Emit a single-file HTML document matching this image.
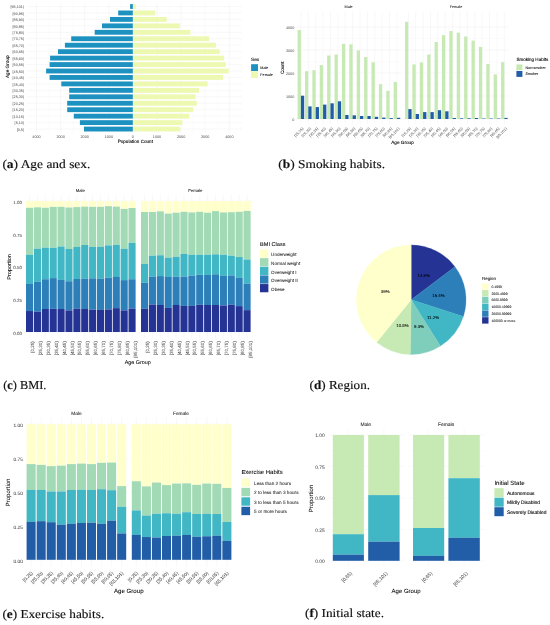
<!DOCTYPE html>
<html lang="en"><head><meta charset="utf-8"><title>Figure</title>
<style>html,body{margin:0;padding:0;background:#fff}svg{display:block}</style></head>
<body>
<svg width="550" height="625" viewBox="0 0 550 625" text-rendering="geometricPrecision">
<rect width="550" height="625" fill="#fff"/>
<g id="panel-a" font-family='"Liberation Sans", Arial, sans-serif'>
<path d="M27 6.5H242" stroke="#ebebeb" stroke-width="0.35" fill="none"/>
<path d="M27 12.95H242" stroke="#ebebeb" stroke-width="0.35" fill="none"/>
<path d="M27 19.4H242" stroke="#ebebeb" stroke-width="0.35" fill="none"/>
<path d="M27 25.85H242" stroke="#ebebeb" stroke-width="0.35" fill="none"/>
<path d="M27 32.3H242" stroke="#ebebeb" stroke-width="0.35" fill="none"/>
<path d="M27 38.75H242" stroke="#ebebeb" stroke-width="0.35" fill="none"/>
<path d="M27 45.2H242" stroke="#ebebeb" stroke-width="0.35" fill="none"/>
<path d="M27 51.65H242" stroke="#ebebeb" stroke-width="0.35" fill="none"/>
<path d="M27 58.1H242" stroke="#ebebeb" stroke-width="0.35" fill="none"/>
<path d="M27 64.55H242" stroke="#ebebeb" stroke-width="0.35" fill="none"/>
<path d="M27 71H242" stroke="#ebebeb" stroke-width="0.35" fill="none"/>
<path d="M27 77.45H242" stroke="#ebebeb" stroke-width="0.35" fill="none"/>
<path d="M27 83.9H242" stroke="#ebebeb" stroke-width="0.35" fill="none"/>
<path d="M27 90.35H242" stroke="#ebebeb" stroke-width="0.35" fill="none"/>
<path d="M27 96.8H242" stroke="#ebebeb" stroke-width="0.35" fill="none"/>
<path d="M27 103.25H242" stroke="#ebebeb" stroke-width="0.35" fill="none"/>
<path d="M27 109.7H242" stroke="#ebebeb" stroke-width="0.35" fill="none"/>
<path d="M27 116.15H242" stroke="#ebebeb" stroke-width="0.35" fill="none"/>
<path d="M27 122.6H242" stroke="#ebebeb" stroke-width="0.35" fill="none"/>
<path d="M27 129.05H242" stroke="#ebebeb" stroke-width="0.35" fill="none"/>
<path d="M36.5 2.6V132.9" stroke="#ebebeb" stroke-width="0.35" fill="none"/>
<path d="M48.55 2.6V132.9" stroke="#ebebeb" stroke-width="0.175" fill="none"/>
<path d="M60.6 2.6V132.9" stroke="#ebebeb" stroke-width="0.35" fill="none"/>
<path d="M72.65 2.6V132.9" stroke="#ebebeb" stroke-width="0.175" fill="none"/>
<path d="M84.7 2.6V132.9" stroke="#ebebeb" stroke-width="0.35" fill="none"/>
<path d="M96.75 2.6V132.9" stroke="#ebebeb" stroke-width="0.175" fill="none"/>
<path d="M108.8 2.6V132.9" stroke="#ebebeb" stroke-width="0.35" fill="none"/>
<path d="M120.85 2.6V132.9" stroke="#ebebeb" stroke-width="0.175" fill="none"/>
<path d="M132.9 2.6V132.9" stroke="#ebebeb" stroke-width="0.35" fill="none"/>
<path d="M144.95 2.6V132.9" stroke="#ebebeb" stroke-width="0.175" fill="none"/>
<path d="M157 2.6V132.9" stroke="#ebebeb" stroke-width="0.35" fill="none"/>
<path d="M169.05 2.6V132.9" stroke="#ebebeb" stroke-width="0.175" fill="none"/>
<path d="M181.1 2.6V132.9" stroke="#ebebeb" stroke-width="0.35" fill="none"/>
<path d="M193.15 2.6V132.9" stroke="#ebebeb" stroke-width="0.175" fill="none"/>
<path d="M205.2 2.6V132.9" stroke="#ebebeb" stroke-width="0.35" fill="none"/>
<path d="M217.25 2.6V132.9" stroke="#ebebeb" stroke-width="0.175" fill="none"/>
<path d="M229.3 2.6V132.9" stroke="#ebebeb" stroke-width="0.35" fill="none"/>
<rect x="130.1" y="4.08" width="2.8" height="4.85" fill="#1d91c0"/>
<rect x="132.9" y="4.08" width="2.9" height="4.85" fill="#edf8b1"/>
<text x="24.2" y="8.15" font-size="3.75" text-anchor="end" fill="#4d4d4d" stroke="#4d4d4d" stroke-width="0">[95,101)</text>
<rect x="118.2" y="10.52" width="14.7" height="4.85" fill="#1d91c0"/>
<rect x="132.9" y="10.52" width="22.3" height="4.85" fill="#edf8b1"/>
<text x="24.2" y="14.6" font-size="3.75" text-anchor="end" fill="#4d4d4d" stroke="#4d4d4d" stroke-width="0">[90,95)</text>
<rect x="110" y="16.97" width="22.9" height="4.85" fill="#1d91c0"/>
<rect x="132.9" y="16.97" width="33.9" height="4.85" fill="#edf8b1"/>
<text x="24.2" y="21.05" font-size="3.75" text-anchor="end" fill="#4d4d4d" stroke="#4d4d4d" stroke-width="0">[85,90)</text>
<rect x="102" y="23.43" width="30.9" height="4.85" fill="#1d91c0"/>
<rect x="132.9" y="23.43" width="47" height="4.85" fill="#edf8b1"/>
<text x="24.2" y="27.5" font-size="3.75" text-anchor="end" fill="#4d4d4d" stroke="#4d4d4d" stroke-width="0">[80,85)</text>
<rect x="94.7" y="29.87" width="38.2" height="4.85" fill="#1d91c0"/>
<rect x="132.9" y="29.87" width="57.6" height="4.85" fill="#edf8b1"/>
<text x="24.2" y="33.95" font-size="3.75" text-anchor="end" fill="#4d4d4d" stroke="#4d4d4d" stroke-width="0">[75,80)</text>
<rect x="71.2" y="36.33" width="61.7" height="4.85" fill="#1d91c0"/>
<rect x="132.9" y="36.33" width="76.2" height="4.85" fill="#edf8b1"/>
<text x="24.2" y="40.4" font-size="3.75" text-anchor="end" fill="#4d4d4d" stroke="#4d4d4d" stroke-width="0">[70,75)</text>
<rect x="64.9" y="42.78" width="68" height="4.85" fill="#1d91c0"/>
<rect x="132.9" y="42.78" width="83" height="4.85" fill="#edf8b1"/>
<text x="24.2" y="46.85" font-size="3.75" text-anchor="end" fill="#4d4d4d" stroke="#4d4d4d" stroke-width="0">[65,70)</text>
<rect x="58" y="49.23" width="74.9" height="4.85" fill="#1d91c0"/>
<rect x="132.9" y="49.23" width="86.8" height="4.85" fill="#edf8b1"/>
<text x="24.2" y="53.3" font-size="3.75" text-anchor="end" fill="#4d4d4d" stroke="#4d4d4d" stroke-width="0">[60,65)</text>
<rect x="50.1" y="55.68" width="82.8" height="4.85" fill="#1d91c0"/>
<rect x="132.9" y="55.68" width="91.2" height="4.85" fill="#edf8b1"/>
<text x="24.2" y="59.75" font-size="3.75" text-anchor="end" fill="#4d4d4d" stroke="#4d4d4d" stroke-width="0">[55,60)</text>
<rect x="49.6" y="62.13" width="83.3" height="4.85" fill="#1d91c0"/>
<rect x="132.9" y="62.13" width="92.8" height="4.85" fill="#edf8b1"/>
<text x="24.2" y="66.2" font-size="3.75" text-anchor="end" fill="#4d4d4d" stroke="#4d4d4d" stroke-width="0">[50,55)</text>
<rect x="46.1" y="68.58" width="86.8" height="4.85" fill="#1d91c0"/>
<rect x="132.9" y="68.58" width="95.8" height="4.85" fill="#edf8b1"/>
<text x="24.2" y="72.65" font-size="3.75" text-anchor="end" fill="#4d4d4d" stroke="#4d4d4d" stroke-width="0">[45,50)</text>
<rect x="49.6" y="75.03" width="83.3" height="4.85" fill="#1d91c0"/>
<rect x="132.9" y="75.03" width="90.1" height="4.85" fill="#edf8b1"/>
<text x="24.2" y="79.1" font-size="3.75" text-anchor="end" fill="#4d4d4d" stroke="#4d4d4d" stroke-width="0">[40,45)</text>
<rect x="61.3" y="81.48" width="71.6" height="4.85" fill="#1d91c0"/>
<rect x="132.9" y="81.48" width="74.8" height="4.85" fill="#edf8b1"/>
<text x="24.2" y="85.55" font-size="3.75" text-anchor="end" fill="#4d4d4d" stroke="#4d4d4d" stroke-width="0">[35,40)</text>
<rect x="69.2" y="87.93" width="63.7" height="4.85" fill="#1d91c0"/>
<rect x="132.9" y="87.93" width="66.1" height="4.85" fill="#edf8b1"/>
<text x="24.2" y="92" font-size="3.75" text-anchor="end" fill="#4d4d4d" stroke="#4d4d4d" stroke-width="0">[30,35)</text>
<rect x="69.2" y="94.38" width="63.7" height="4.85" fill="#1d91c0"/>
<rect x="132.9" y="94.38" width="62.6" height="4.85" fill="#edf8b1"/>
<text x="24.2" y="98.45" font-size="3.75" text-anchor="end" fill="#4d4d4d" stroke="#4d4d4d" stroke-width="0">[25,30)</text>
<rect x="67.2" y="100.83" width="65.7" height="4.85" fill="#1d91c0"/>
<rect x="132.9" y="100.83" width="63.9" height="4.85" fill="#edf8b1"/>
<text x="24.2" y="104.9" font-size="3.75" text-anchor="end" fill="#4d4d4d" stroke="#4d4d4d" stroke-width="0">[20,25)</text>
<rect x="67.2" y="107.28" width="65.7" height="4.85" fill="#1d91c0"/>
<rect x="132.9" y="107.28" width="60.1" height="4.85" fill="#edf8b1"/>
<text x="24.2" y="111.35" font-size="3.75" text-anchor="end" fill="#4d4d4d" stroke="#4d4d4d" stroke-width="0">[15,20)</text>
<rect x="73.8" y="113.73" width="59.1" height="4.85" fill="#1d91c0"/>
<rect x="132.9" y="113.73" width="56.3" height="4.85" fill="#edf8b1"/>
<text x="24.2" y="117.8" font-size="3.75" text-anchor="end" fill="#4d4d4d" stroke="#4d4d4d" stroke-width="0">[10,15)</text>
<rect x="79.9" y="120.18" width="53" height="4.85" fill="#1d91c0"/>
<rect x="132.9" y="120.18" width="49.5" height="4.85" fill="#edf8b1"/>
<text x="24.2" y="124.25" font-size="3.75" text-anchor="end" fill="#4d4d4d" stroke="#4d4d4d" stroke-width="0">[5,10)</text>
<rect x="84" y="126.63" width="48.9" height="4.85" fill="#1d91c0"/>
<rect x="132.9" y="126.63" width="47.3" height="4.85" fill="#edf8b1"/>
<text x="24.2" y="130.7" font-size="3.75" text-anchor="end" fill="#4d4d4d" stroke="#4d4d4d" stroke-width="0">[0,5)</text>
<text x="36.5" y="138.35" font-size="3.75" text-anchor="middle" fill="#4d4d4d" stroke="#4d4d4d" stroke-width="0">4000</text>
<text x="60.6" y="138.35" font-size="3.75" text-anchor="middle" fill="#4d4d4d" stroke="#4d4d4d" stroke-width="0">3000</text>
<text x="84.7" y="138.35" font-size="3.75" text-anchor="middle" fill="#4d4d4d" stroke="#4d4d4d" stroke-width="0">2000</text>
<text x="108.8" y="138.35" font-size="3.75" text-anchor="middle" fill="#4d4d4d" stroke="#4d4d4d" stroke-width="0">1000</text>
<text x="132.9" y="138.35" font-size="3.75" text-anchor="middle" fill="#4d4d4d" stroke="#4d4d4d" stroke-width="0">0</text>
<text x="157" y="138.35" font-size="3.75" text-anchor="middle" fill="#4d4d4d" stroke="#4d4d4d" stroke-width="0">1000</text>
<text x="181.1" y="138.35" font-size="3.75" text-anchor="middle" fill="#4d4d4d" stroke="#4d4d4d" stroke-width="0">2000</text>
<text x="205.2" y="138.35" font-size="3.75" text-anchor="middle" fill="#4d4d4d" stroke="#4d4d4d" stroke-width="0">3000</text>
<text x="229.3" y="138.35" font-size="3.75" text-anchor="middle" fill="#4d4d4d" stroke="#4d4d4d" stroke-width="0">4000</text>
<text x="135.3" y="143.46" font-size="4.6" text-anchor="middle" fill="#000" stroke="#000" stroke-width="0.1">Population Count</text>
<text transform="translate(6.8 66.7) rotate(-90)" y="1.69" font-size="4.7" text-anchor="middle" fill="#000" stroke="#000" stroke-width="0.1">Age Group</text>
<text x="251" y="61.39" font-size="4.7" text-anchor="start" fill="#000" stroke="#000" stroke-width="0.1">Sex</text>
<rect x="251.1" y="64.2" width="6.9" height="6.8" fill="#1d91c0"/>
<rect x="251.1" y="71.2" width="6.9" height="6.8" fill="#edf8b1"/>
<text x="260.3" y="68.95" font-size="3.75" text-anchor="start" fill="#000" stroke="#000" stroke-width="0.05">Male</text>
<text x="260.3" y="76.05" font-size="3.75" text-anchor="start" fill="#000" stroke="#000" stroke-width="0.05">Female</text>
</g>
<g id="panel-b" font-family='"Liberation Sans", Arial, sans-serif'>
<path d="M296.47 119H401.4" stroke="#ebebeb" stroke-width="0.35" fill="none"/>
<path d="M296.47 107.5H401.4" stroke="#ebebeb" stroke-width="0.175" fill="none"/>
<path d="M296.47 96H401.4" stroke="#ebebeb" stroke-width="0.35" fill="none"/>
<path d="M296.47 84.5H401.4" stroke="#ebebeb" stroke-width="0.175" fill="none"/>
<path d="M296.47 73H401.4" stroke="#ebebeb" stroke-width="0.35" fill="none"/>
<path d="M296.47 61.5H401.4" stroke="#ebebeb" stroke-width="0.175" fill="none"/>
<path d="M296.47 50H401.4" stroke="#ebebeb" stroke-width="0.35" fill="none"/>
<path d="M296.47 38.5H401.4" stroke="#ebebeb" stroke-width="0.175" fill="none"/>
<path d="M296.47 27H401.4" stroke="#ebebeb" stroke-width="0.35" fill="none"/>
<path d="M300.9 11.5V123.8" stroke="#ebebeb" stroke-width="0.35" fill="none"/>
<path d="M308.29 11.5V123.8" stroke="#ebebeb" stroke-width="0.35" fill="none"/>
<path d="M315.68 11.5V123.8" stroke="#ebebeb" stroke-width="0.35" fill="none"/>
<path d="M323.07 11.5V123.8" stroke="#ebebeb" stroke-width="0.35" fill="none"/>
<path d="M330.46 11.5V123.8" stroke="#ebebeb" stroke-width="0.35" fill="none"/>
<path d="M337.85 11.5V123.8" stroke="#ebebeb" stroke-width="0.35" fill="none"/>
<path d="M345.24 11.5V123.8" stroke="#ebebeb" stroke-width="0.35" fill="none"/>
<path d="M352.63 11.5V123.8" stroke="#ebebeb" stroke-width="0.35" fill="none"/>
<path d="M360.02 11.5V123.8" stroke="#ebebeb" stroke-width="0.35" fill="none"/>
<path d="M367.41 11.5V123.8" stroke="#ebebeb" stroke-width="0.35" fill="none"/>
<path d="M374.8 11.5V123.8" stroke="#ebebeb" stroke-width="0.35" fill="none"/>
<path d="M382.19 11.5V123.8" stroke="#ebebeb" stroke-width="0.35" fill="none"/>
<path d="M389.58 11.5V123.8" stroke="#ebebeb" stroke-width="0.35" fill="none"/>
<path d="M396.97 11.5V123.8" stroke="#ebebeb" stroke-width="0.35" fill="none"/>
<rect x="297.6" y="30" width="3.3" height="89" fill="#c7e9b4"/>
<rect x="300.9" y="95.7" width="3.3" height="23.3" fill="#225ea8"/>
<text transform="translate(302 127) rotate(-45)" y="2.7" font-size="3.75" text-anchor="end" fill="#4d4d4d" stroke="#4d4d4d" stroke-width="0">[15,25)</text>
<rect x="304.99" y="71.2" width="3.3" height="47.8" fill="#c7e9b4"/>
<rect x="308.29" y="106.4" width="3.3" height="12.6" fill="#225ea8"/>
<text transform="translate(309.39 127) rotate(-45)" y="2.7" font-size="3.75" text-anchor="end" fill="#4d4d4d" stroke="#4d4d4d" stroke-width="0">[25,30)</text>
<rect x="312.38" y="70.2" width="3.3" height="48.8" fill="#c7e9b4"/>
<rect x="315.68" y="107.1" width="3.3" height="11.9" fill="#225ea8"/>
<text transform="translate(316.78 127) rotate(-45)" y="2.7" font-size="3.75" text-anchor="end" fill="#4d4d4d" stroke="#4d4d4d" stroke-width="0">[30,35)</text>
<rect x="319.77" y="65.1" width="3.3" height="53.9" fill="#c7e9b4"/>
<rect x="323.07" y="104.6" width="3.3" height="14.4" fill="#225ea8"/>
<text transform="translate(324.17 127) rotate(-45)" y="2.7" font-size="3.75" text-anchor="end" fill="#4d4d4d" stroke="#4d4d4d" stroke-width="0">[35,40)</text>
<rect x="327.16" y="55.5" width="3.3" height="63.5" fill="#c7e9b4"/>
<rect x="330.46" y="103.3" width="3.3" height="15.7" fill="#225ea8"/>
<text transform="translate(331.56 127) rotate(-45)" y="2.7" font-size="3.75" text-anchor="end" fill="#4d4d4d" stroke="#4d4d4d" stroke-width="0">[40,45)</text>
<rect x="334.55" y="54.5" width="3.3" height="64.5" fill="#c7e9b4"/>
<rect x="337.85" y="101.3" width="3.3" height="17.7" fill="#225ea8"/>
<text transform="translate(338.95 127) rotate(-45)" y="2.7" font-size="3.75" text-anchor="end" fill="#4d4d4d" stroke="#4d4d4d" stroke-width="0">[45,50)</text>
<rect x="341.94" y="43.8" width="3.3" height="75.2" fill="#c7e9b4"/>
<rect x="345.24" y="115" width="3.3" height="4" fill="#225ea8"/>
<text transform="translate(346.34 127) rotate(-45)" y="2.7" font-size="3.75" text-anchor="end" fill="#4d4d4d" stroke="#4d4d4d" stroke-width="0">[50,55)</text>
<rect x="349.33" y="44.3" width="3.3" height="74.7" fill="#c7e9b4"/>
<rect x="352.63" y="115.3" width="3.3" height="3.7" fill="#225ea8"/>
<text transform="translate(353.73 127) rotate(-45)" y="2.7" font-size="3.75" text-anchor="end" fill="#4d4d4d" stroke="#4d4d4d" stroke-width="0">[55,60)</text>
<rect x="356.72" y="50.4" width="3.3" height="68.6" fill="#c7e9b4"/>
<rect x="360.02" y="116" width="3.3" height="3" fill="#225ea8"/>
<text transform="translate(361.12 127) rotate(-45)" y="2.7" font-size="3.75" text-anchor="end" fill="#4d4d4d" stroke="#4d4d4d" stroke-width="0">[60,65)</text>
<rect x="364.11" y="57" width="3.3" height="62" fill="#c7e9b4"/>
<rect x="367.41" y="116" width="3.3" height="3" fill="#225ea8"/>
<text transform="translate(368.51 127) rotate(-45)" y="2.7" font-size="3.75" text-anchor="end" fill="#4d4d4d" stroke="#4d4d4d" stroke-width="0">[65,70)</text>
<rect x="371.5" y="62.3" width="3.3" height="56.7" fill="#c7e9b4"/>
<rect x="374.8" y="116.8" width="3.3" height="2.2" fill="#225ea8"/>
<text transform="translate(375.9 127) rotate(-45)" y="2.7" font-size="3.75" text-anchor="end" fill="#4d4d4d" stroke="#4d4d4d" stroke-width="0">[70,75)</text>
<rect x="378.89" y="84.2" width="3.3" height="34.8" fill="#c7e9b4"/>
<rect x="382.19" y="117.6" width="3.3" height="1.4" fill="#225ea8"/>
<text transform="translate(383.29 127) rotate(-45)" y="2.7" font-size="3.75" text-anchor="end" fill="#4d4d4d" stroke="#4d4d4d" stroke-width="0">[75,80)</text>
<rect x="386.28" y="90.8" width="3.3" height="28.2" fill="#c7e9b4"/>
<rect x="389.58" y="118.1" width="3.3" height="0.9" fill="#225ea8"/>
<text transform="translate(390.68 127) rotate(-45)" y="2.7" font-size="3.75" text-anchor="end" fill="#4d4d4d" stroke="#4d4d4d" stroke-width="0">[80,85)</text>
<rect x="393.67" y="81.9" width="3.3" height="37.1" fill="#c7e9b4"/>
<rect x="396.97" y="117.8" width="3.3" height="1.2" fill="#225ea8"/>
<text transform="translate(398.07 127) rotate(-45)" y="2.7" font-size="3.75" text-anchor="end" fill="#4d4d4d" stroke="#4d4d4d" stroke-width="0">[85,101)</text>
<text x="348.6" y="8.25" font-size="3.75" text-anchor="middle" fill="#1a1a1a" stroke="#1a1a1a" stroke-width="0.05">Male</text>
<path d="M403.87 119H508.8" stroke="#ebebeb" stroke-width="0.35" fill="none"/>
<path d="M403.87 107.5H508.8" stroke="#ebebeb" stroke-width="0.175" fill="none"/>
<path d="M403.87 96H508.8" stroke="#ebebeb" stroke-width="0.35" fill="none"/>
<path d="M403.87 84.5H508.8" stroke="#ebebeb" stroke-width="0.175" fill="none"/>
<path d="M403.87 73H508.8" stroke="#ebebeb" stroke-width="0.35" fill="none"/>
<path d="M403.87 61.5H508.8" stroke="#ebebeb" stroke-width="0.175" fill="none"/>
<path d="M403.87 50H508.8" stroke="#ebebeb" stroke-width="0.35" fill="none"/>
<path d="M403.87 38.5H508.8" stroke="#ebebeb" stroke-width="0.175" fill="none"/>
<path d="M403.87 27H508.8" stroke="#ebebeb" stroke-width="0.35" fill="none"/>
<path d="M408.3 11.5V123.8" stroke="#ebebeb" stroke-width="0.35" fill="none"/>
<path d="M415.69 11.5V123.8" stroke="#ebebeb" stroke-width="0.35" fill="none"/>
<path d="M423.08 11.5V123.8" stroke="#ebebeb" stroke-width="0.35" fill="none"/>
<path d="M430.47 11.5V123.8" stroke="#ebebeb" stroke-width="0.35" fill="none"/>
<path d="M437.86 11.5V123.8" stroke="#ebebeb" stroke-width="0.35" fill="none"/>
<path d="M445.25 11.5V123.8" stroke="#ebebeb" stroke-width="0.35" fill="none"/>
<path d="M452.64 11.5V123.8" stroke="#ebebeb" stroke-width="0.35" fill="none"/>
<path d="M460.03 11.5V123.8" stroke="#ebebeb" stroke-width="0.35" fill="none"/>
<path d="M467.42 11.5V123.8" stroke="#ebebeb" stroke-width="0.35" fill="none"/>
<path d="M474.81 11.5V123.8" stroke="#ebebeb" stroke-width="0.35" fill="none"/>
<path d="M482.2 11.5V123.8" stroke="#ebebeb" stroke-width="0.35" fill="none"/>
<path d="M489.59 11.5V123.8" stroke="#ebebeb" stroke-width="0.35" fill="none"/>
<path d="M496.98 11.5V123.8" stroke="#ebebeb" stroke-width="0.35" fill="none"/>
<path d="M504.37 11.5V123.8" stroke="#ebebeb" stroke-width="0.35" fill="none"/>
<rect x="405" y="21.8" width="3.3" height="97.2" fill="#c7e9b4"/>
<rect x="408.3" y="109.1" width="3.3" height="9.9" fill="#225ea8"/>
<text transform="translate(409.4 127) rotate(-45)" y="2.7" font-size="3.75" text-anchor="end" fill="#4d4d4d" stroke="#4d4d4d" stroke-width="0">[15,25)</text>
<rect x="412.39" y="64.4" width="3.3" height="54.6" fill="#c7e9b4"/>
<rect x="415.69" y="114" width="3.3" height="5" fill="#225ea8"/>
<text transform="translate(416.79 127) rotate(-45)" y="2.7" font-size="3.75" text-anchor="end" fill="#4d4d4d" stroke="#4d4d4d" stroke-width="0">[25,30)</text>
<rect x="419.78" y="62.4" width="3.3" height="56.6" fill="#c7e9b4"/>
<rect x="423.08" y="112.1" width="3.3" height="6.9" fill="#225ea8"/>
<text transform="translate(424.18 127) rotate(-45)" y="2.7" font-size="3.75" text-anchor="end" fill="#4d4d4d" stroke="#4d4d4d" stroke-width="0">[30,35)</text>
<rect x="427.17" y="54.5" width="3.3" height="64.5" fill="#c7e9b4"/>
<rect x="430.47" y="112.1" width="3.3" height="6.9" fill="#225ea8"/>
<text transform="translate(431.57 127) rotate(-45)" y="2.7" font-size="3.75" text-anchor="end" fill="#4d4d4d" stroke="#4d4d4d" stroke-width="0">[35,40)</text>
<rect x="434.56" y="42" width="3.3" height="77" fill="#c7e9b4"/>
<rect x="437.86" y="110.2" width="3.3" height="8.8" fill="#225ea8"/>
<text transform="translate(438.96 127) rotate(-45)" y="2.7" font-size="3.75" text-anchor="end" fill="#4d4d4d" stroke="#4d4d4d" stroke-width="0">[40,45)</text>
<rect x="441.95" y="35.2" width="3.3" height="83.8" fill="#c7e9b4"/>
<rect x="445.25" y="111.3" width="3.3" height="7.7" fill="#225ea8"/>
<text transform="translate(446.35 127) rotate(-45)" y="2.7" font-size="3.75" text-anchor="end" fill="#4d4d4d" stroke="#4d4d4d" stroke-width="0">[45,50)</text>
<rect x="449.34" y="31.1" width="3.3" height="87.9" fill="#c7e9b4"/>
<rect x="452.64" y="118" width="3.3" height="1" fill="#225ea8"/>
<text transform="translate(453.74 127) rotate(-45)" y="2.7" font-size="3.75" text-anchor="end" fill="#4d4d4d" stroke="#4d4d4d" stroke-width="0">[50,55)</text>
<rect x="456.73" y="32.7" width="3.3" height="86.3" fill="#c7e9b4"/>
<rect x="460.03" y="118.3" width="3.3" height="0.7" fill="#225ea8"/>
<text transform="translate(461.13 127) rotate(-45)" y="2.7" font-size="3.75" text-anchor="end" fill="#4d4d4d" stroke="#4d4d4d" stroke-width="0">[55,60)</text>
<rect x="464.12" y="36.5" width="3.3" height="82.5" fill="#c7e9b4"/>
<rect x="467.42" y="118.3" width="3.3" height="0.7" fill="#225ea8"/>
<text transform="translate(468.52 127) rotate(-45)" y="2.7" font-size="3.75" text-anchor="end" fill="#4d4d4d" stroke="#4d4d4d" stroke-width="0">[60,65)</text>
<rect x="471.51" y="40.6" width="3.3" height="78.4" fill="#c7e9b4"/>
<rect x="474.81" y="118" width="3.3" height="1" fill="#225ea8"/>
<text transform="translate(475.91 127) rotate(-45)" y="2.7" font-size="3.75" text-anchor="end" fill="#4d4d4d" stroke="#4d4d4d" stroke-width="0">[65,70)</text>
<rect x="478.9" y="46.9" width="3.3" height="72.1" fill="#c7e9b4"/>
<rect x="482.2" y="118.5" width="3.3" height="0.5" fill="#225ea8"/>
<text transform="translate(483.3 127) rotate(-45)" y="2.7" font-size="3.75" text-anchor="end" fill="#4d4d4d" stroke="#4d4d4d" stroke-width="0">[70,75)</text>
<rect x="486.29" y="64.1" width="3.3" height="54.9" fill="#c7e9b4"/>
<rect x="489.59" y="118.5" width="3.3" height="0.5" fill="#225ea8"/>
<text transform="translate(490.69 127) rotate(-45)" y="2.7" font-size="3.75" text-anchor="end" fill="#4d4d4d" stroke="#4d4d4d" stroke-width="0">[75,80)</text>
<rect x="493.68" y="74.4" width="3.3" height="44.6" fill="#c7e9b4"/>
<rect x="496.98" y="118.5" width="3.3" height="0.5" fill="#225ea8"/>
<text transform="translate(498.08 127) rotate(-45)" y="2.7" font-size="3.75" text-anchor="end" fill="#4d4d4d" stroke="#4d4d4d" stroke-width="0">[80,85)</text>
<rect x="501.07" y="62.2" width="3.3" height="56.8" fill="#c7e9b4"/>
<rect x="504.37" y="117.9" width="3.3" height="1.1" fill="#225ea8"/>
<text transform="translate(505.47 127) rotate(-45)" y="2.7" font-size="3.75" text-anchor="end" fill="#4d4d4d" stroke="#4d4d4d" stroke-width="0">[85,101)</text>
<text x="456" y="8.25" font-size="3.75" text-anchor="middle" fill="#1a1a1a" stroke="#1a1a1a" stroke-width="0.05">Female</text>
<text x="294.3" y="120.85" font-size="3.75" text-anchor="end" fill="#4d4d4d" stroke="#4d4d4d" stroke-width="0">0</text>
<text x="294.3" y="97.85" font-size="3.75" text-anchor="end" fill="#4d4d4d" stroke="#4d4d4d" stroke-width="0">1000</text>
<text x="294.3" y="74.85" font-size="3.75" text-anchor="end" fill="#4d4d4d" stroke="#4d4d4d" stroke-width="0">2000</text>
<text x="294.3" y="51.85" font-size="3.75" text-anchor="end" fill="#4d4d4d" stroke="#4d4d4d" stroke-width="0">3000</text>
<text x="294.3" y="28.85" font-size="3.75" text-anchor="end" fill="#4d4d4d" stroke="#4d4d4d" stroke-width="0">4000</text>
<text transform="translate(282.3 67.8) rotate(-90)" y="1.69" font-size="4.7" text-anchor="middle" fill="#000" stroke="#000" stroke-width="0.1">Count</text>
<text x="402.5" y="144.17" font-size="4.65" text-anchor="middle" fill="#000" stroke="#000" stroke-width="0.1">Age Group</text>
<text x="516.4" y="60.94" font-size="4.55" text-anchor="start" fill="#000" stroke="#000" stroke-width="0.1">Smoking Habits</text>
<rect x="516.4" y="64.4" width="6" height="5.9" fill="#c7e9b4"/>
<rect x="516.4" y="71" width="6" height="5.9" fill="#225ea8"/>
<text x="525.4" y="68.75" font-size="3.75" text-anchor="start" fill="#000" stroke="#000" stroke-width="0.05">Non-smoker</text>
<text x="525.4" y="75.35" font-size="3.75" text-anchor="start" fill="#000" stroke="#000" stroke-width="0.05">Smoker</text>
</g>
<g id="panel-c" font-family='"Liberation Sans", Arial, sans-serif'>
<path d="M24.82 332H136.79" stroke="#ebebeb" stroke-width="0.35" fill="none"/>
<path d="M24.82 315.64H136.79" stroke="#ebebeb" stroke-width="0.175" fill="none"/>
<path d="M24.82 299.27H136.79" stroke="#ebebeb" stroke-width="0.35" fill="none"/>
<path d="M24.82 282.91H136.79" stroke="#ebebeb" stroke-width="0.175" fill="none"/>
<path d="M24.82 266.55H136.79" stroke="#ebebeb" stroke-width="0.35" fill="none"/>
<path d="M24.82 250.19H136.79" stroke="#ebebeb" stroke-width="0.175" fill="none"/>
<path d="M24.82 233.82H136.79" stroke="#ebebeb" stroke-width="0.35" fill="none"/>
<path d="M24.82 217.46H136.79" stroke="#ebebeb" stroke-width="0.175" fill="none"/>
<path d="M24.82 201.1H136.79" stroke="#ebebeb" stroke-width="0.35" fill="none"/>
<path d="M29.55 194.6V338.5" stroke="#ebebeb" stroke-width="0.35" fill="none"/>
<path d="M37.44 194.6V338.5" stroke="#ebebeb" stroke-width="0.35" fill="none"/>
<path d="M45.32 194.6V338.5" stroke="#ebebeb" stroke-width="0.35" fill="none"/>
<path d="M53.2 194.6V338.5" stroke="#ebebeb" stroke-width="0.35" fill="none"/>
<path d="M61.09 194.6V338.5" stroke="#ebebeb" stroke-width="0.35" fill="none"/>
<path d="M68.97 194.6V338.5" stroke="#ebebeb" stroke-width="0.35" fill="none"/>
<path d="M76.86 194.6V338.5" stroke="#ebebeb" stroke-width="0.35" fill="none"/>
<path d="M84.75 194.6V338.5" stroke="#ebebeb" stroke-width="0.35" fill="none"/>
<path d="M92.63 194.6V338.5" stroke="#ebebeb" stroke-width="0.35" fill="none"/>
<path d="M100.52 194.6V338.5" stroke="#ebebeb" stroke-width="0.35" fill="none"/>
<path d="M108.4 194.6V338.5" stroke="#ebebeb" stroke-width="0.35" fill="none"/>
<path d="M116.28 194.6V338.5" stroke="#ebebeb" stroke-width="0.35" fill="none"/>
<path d="M124.17 194.6V338.5" stroke="#ebebeb" stroke-width="0.35" fill="none"/>
<path d="M132.06 194.6V338.5" stroke="#ebebeb" stroke-width="0.35" fill="none"/>
<rect x="26" y="201.1" width="7.1" height="6.67" fill="#ffffcc"/>
<rect x="26" y="207.77" width="7.1" height="47.04" fill="#a1dab4"/>
<rect x="26" y="254.81" width="7.1" height="29.12" fill="#41b6c4"/>
<rect x="26" y="283.93" width="7.1" height="27.11" fill="#2c7fb8"/>
<rect x="26" y="311.04" width="7.1" height="20.96" fill="#253494"/>
<text transform="translate(32.45 341.1) rotate(-90)" y="1.64" font-size="4.55" text-anchor="end" fill="#4d4d4d" stroke="#4d4d4d" stroke-width="0.05">[0,25)</text>
<rect x="33.88" y="201.1" width="7.1" height="6.22" fill="#ffffcc"/>
<rect x="33.88" y="207.32" width="7.1" height="41.44" fill="#a1dab4"/>
<rect x="33.88" y="248.76" width="7.1" height="32.93" fill="#41b6c4"/>
<rect x="33.88" y="281.69" width="7.1" height="30.02" fill="#2c7fb8"/>
<rect x="33.88" y="311.71" width="7.1" height="20.29" fill="#253494"/>
<text transform="translate(40.34 341.1) rotate(-90)" y="1.64" font-size="4.55" text-anchor="end" fill="#4d4d4d" stroke="#4d4d4d" stroke-width="0.05">[25,30)</text>
<rect x="41.77" y="201.1" width="7.1" height="6.67" fill="#ffffcc"/>
<rect x="41.77" y="207.77" width="7.1" height="39.87" fill="#a1dab4"/>
<rect x="41.77" y="247.64" width="7.1" height="31.59" fill="#41b6c4"/>
<rect x="41.77" y="279.23" width="7.1" height="29.79" fill="#2c7fb8"/>
<rect x="41.77" y="309.02" width="7.1" height="22.98" fill="#253494"/>
<text transform="translate(48.22 341.1) rotate(-90)" y="1.64" font-size="4.55" text-anchor="end" fill="#4d4d4d" stroke="#4d4d4d" stroke-width="0.05">[30,35)</text>
<rect x="49.66" y="201.1" width="7.1" height="5.77" fill="#ffffcc"/>
<rect x="49.66" y="206.87" width="7.1" height="40.99" fill="#a1dab4"/>
<rect x="49.66" y="247.87" width="7.1" height="30.24" fill="#41b6c4"/>
<rect x="49.66" y="278.11" width="7.1" height="30.69" fill="#2c7fb8"/>
<rect x="49.66" y="308.8" width="7.1" height="23.2" fill="#253494"/>
<text transform="translate(56.1 341.1) rotate(-90)" y="1.64" font-size="4.55" text-anchor="end" fill="#4d4d4d" stroke="#4d4d4d" stroke-width="0.05">[35,40)</text>
<rect x="57.54" y="201.1" width="7.1" height="5.77" fill="#ffffcc"/>
<rect x="57.54" y="206.87" width="7.1" height="39.65" fill="#a1dab4"/>
<rect x="57.54" y="246.52" width="7.1" height="33.38" fill="#41b6c4"/>
<rect x="57.54" y="279.9" width="7.1" height="29.12" fill="#2c7fb8"/>
<rect x="57.54" y="309.02" width="7.1" height="22.98" fill="#253494"/>
<text transform="translate(63.99 341.1) rotate(-90)" y="1.64" font-size="4.55" text-anchor="end" fill="#4d4d4d" stroke="#4d4d4d" stroke-width="0.05">[40,45)</text>
<rect x="65.42" y="201.1" width="7.1" height="6.44" fill="#ffffcc"/>
<rect x="65.42" y="207.54" width="7.1" height="41.44" fill="#a1dab4"/>
<rect x="65.42" y="248.99" width="7.1" height="32.26" fill="#41b6c4"/>
<rect x="65.42" y="281.25" width="7.1" height="29.12" fill="#2c7fb8"/>
<rect x="65.42" y="310.37" width="7.1" height="21.63" fill="#253494"/>
<text transform="translate(71.88 341.1) rotate(-90)" y="1.64" font-size="4.55" text-anchor="end" fill="#4d4d4d" stroke="#4d4d4d" stroke-width="0.05">[45,50)</text>
<rect x="73.31" y="201.1" width="7.1" height="6" fill="#ffffcc"/>
<rect x="73.31" y="207.1" width="7.1" height="39.87" fill="#a1dab4"/>
<rect x="73.31" y="246.97" width="7.1" height="32.03" fill="#41b6c4"/>
<rect x="73.31" y="279.01" width="7.1" height="29.57" fill="#2c7fb8"/>
<rect x="73.31" y="308.58" width="7.1" height="23.42" fill="#253494"/>
<text transform="translate(79.76 341.1) rotate(-90)" y="1.64" font-size="4.55" text-anchor="end" fill="#4d4d4d" stroke="#4d4d4d" stroke-width="0.05">[50,55)</text>
<rect x="81.19" y="201.1" width="7.1" height="5.55" fill="#ffffcc"/>
<rect x="81.19" y="206.65" width="7.1" height="38.31" fill="#a1dab4"/>
<rect x="81.19" y="244.96" width="7.1" height="33.83" fill="#41b6c4"/>
<rect x="81.19" y="278.78" width="7.1" height="30.24" fill="#2c7fb8"/>
<rect x="81.19" y="309.02" width="7.1" height="22.98" fill="#253494"/>
<text transform="translate(87.65 341.1) rotate(-90)" y="1.64" font-size="4.55" text-anchor="end" fill="#4d4d4d" stroke="#4d4d4d" stroke-width="0.05">[55,60)</text>
<rect x="89.08" y="201.1" width="7.1" height="5.77" fill="#ffffcc"/>
<rect x="89.08" y="206.87" width="7.1" height="40.1" fill="#a1dab4"/>
<rect x="89.08" y="246.97" width="7.1" height="31.36" fill="#41b6c4"/>
<rect x="89.08" y="278.33" width="7.1" height="31.36" fill="#2c7fb8"/>
<rect x="89.08" y="309.7" width="7.1" height="22.3" fill="#253494"/>
<text transform="translate(95.53 341.1) rotate(-90)" y="1.64" font-size="4.55" text-anchor="end" fill="#4d4d4d" stroke="#4d4d4d" stroke-width="0.05">[60,65)</text>
<rect x="96.97" y="201.1" width="7.1" height="5.77" fill="#ffffcc"/>
<rect x="96.97" y="206.87" width="7.1" height="39.87" fill="#a1dab4"/>
<rect x="96.97" y="246.75" width="7.1" height="32.03" fill="#41b6c4"/>
<rect x="96.97" y="278.78" width="7.1" height="31.14" fill="#2c7fb8"/>
<rect x="96.97" y="309.92" width="7.1" height="22.08" fill="#253494"/>
<text transform="translate(103.42 341.1) rotate(-90)" y="1.64" font-size="4.55" text-anchor="end" fill="#4d4d4d" stroke="#4d4d4d" stroke-width="0.05">[65,70)</text>
<rect x="104.85" y="201.1" width="7.1" height="5.1" fill="#ffffcc"/>
<rect x="104.85" y="206.2" width="7.1" height="39.2" fill="#a1dab4"/>
<rect x="104.85" y="245.4" width="7.1" height="32.26" fill="#41b6c4"/>
<rect x="104.85" y="277.66" width="7.1" height="31.81" fill="#2c7fb8"/>
<rect x="104.85" y="309.47" width="7.1" height="22.53" fill="#253494"/>
<text transform="translate(111.3 341.1) rotate(-90)" y="1.64" font-size="4.55" text-anchor="end" fill="#4d4d4d" stroke="#4d4d4d" stroke-width="0.05">[70,75)</text>
<rect x="112.73" y="201.1" width="7.1" height="5.55" fill="#ffffcc"/>
<rect x="112.73" y="206.65" width="7.1" height="38.31" fill="#a1dab4"/>
<rect x="112.73" y="244.96" width="7.1" height="32.03" fill="#41b6c4"/>
<rect x="112.73" y="276.99" width="7.1" height="31.14" fill="#2c7fb8"/>
<rect x="112.73" y="308.13" width="7.1" height="23.87" fill="#253494"/>
<text transform="translate(119.19 341.1) rotate(-90)" y="1.64" font-size="4.55" text-anchor="end" fill="#4d4d4d" stroke="#4d4d4d" stroke-width="0.05">[75,80)</text>
<rect x="120.62" y="201.1" width="7.1" height="7.79" fill="#ffffcc"/>
<rect x="120.62" y="208.89" width="7.1" height="39.87" fill="#a1dab4"/>
<rect x="120.62" y="248.76" width="7.1" height="31.36" fill="#41b6c4"/>
<rect x="120.62" y="280.13" width="7.1" height="30.24" fill="#2c7fb8"/>
<rect x="120.62" y="310.37" width="7.1" height="21.63" fill="#253494"/>
<text transform="translate(127.07 341.1) rotate(-90)" y="1.64" font-size="4.55" text-anchor="end" fill="#4d4d4d" stroke="#4d4d4d" stroke-width="0.05">[80,85)</text>
<rect x="128.5" y="201.1" width="7.1" height="6.89" fill="#ffffcc"/>
<rect x="128.5" y="207.99" width="7.1" height="34.95" fill="#a1dab4"/>
<rect x="128.5" y="242.94" width="7.1" height="36.29" fill="#41b6c4"/>
<rect x="128.5" y="279.23" width="7.1" height="29.35" fill="#2c7fb8"/>
<rect x="128.5" y="308.58" width="7.1" height="23.42" fill="#253494"/>
<text transform="translate(134.96 341.1) rotate(-90)" y="1.64" font-size="4.55" text-anchor="end" fill="#4d4d4d" stroke="#4d4d4d" stroke-width="0.05">[85,101)</text>
<text x="80.3" y="192.15" font-size="4.3" text-anchor="middle" fill="#1a1a1a" stroke="#1a1a1a" stroke-width="0.05">Male</text>
<path d="M139.82 332H251.79" stroke="#ebebeb" stroke-width="0.35" fill="none"/>
<path d="M139.82 315.64H251.79" stroke="#ebebeb" stroke-width="0.175" fill="none"/>
<path d="M139.82 299.27H251.79" stroke="#ebebeb" stroke-width="0.35" fill="none"/>
<path d="M139.82 282.91H251.79" stroke="#ebebeb" stroke-width="0.175" fill="none"/>
<path d="M139.82 266.55H251.79" stroke="#ebebeb" stroke-width="0.35" fill="none"/>
<path d="M139.82 250.19H251.79" stroke="#ebebeb" stroke-width="0.175" fill="none"/>
<path d="M139.82 233.82H251.79" stroke="#ebebeb" stroke-width="0.35" fill="none"/>
<path d="M139.82 217.46H251.79" stroke="#ebebeb" stroke-width="0.175" fill="none"/>
<path d="M139.82 201.1H251.79" stroke="#ebebeb" stroke-width="0.35" fill="none"/>
<path d="M144.55 194.6V338.5" stroke="#ebebeb" stroke-width="0.35" fill="none"/>
<path d="M152.44 194.6V338.5" stroke="#ebebeb" stroke-width="0.35" fill="none"/>
<path d="M160.32 194.6V338.5" stroke="#ebebeb" stroke-width="0.35" fill="none"/>
<path d="M168.21 194.6V338.5" stroke="#ebebeb" stroke-width="0.35" fill="none"/>
<path d="M176.09 194.6V338.5" stroke="#ebebeb" stroke-width="0.35" fill="none"/>
<path d="M183.98 194.6V338.5" stroke="#ebebeb" stroke-width="0.35" fill="none"/>
<path d="M191.86 194.6V338.5" stroke="#ebebeb" stroke-width="0.35" fill="none"/>
<path d="M199.75 194.6V338.5" stroke="#ebebeb" stroke-width="0.35" fill="none"/>
<path d="M207.63 194.6V338.5" stroke="#ebebeb" stroke-width="0.35" fill="none"/>
<path d="M215.52 194.6V338.5" stroke="#ebebeb" stroke-width="0.35" fill="none"/>
<path d="M223.4 194.6V338.5" stroke="#ebebeb" stroke-width="0.35" fill="none"/>
<path d="M231.29 194.6V338.5" stroke="#ebebeb" stroke-width="0.35" fill="none"/>
<path d="M239.17 194.6V338.5" stroke="#ebebeb" stroke-width="0.35" fill="none"/>
<path d="M247.06 194.6V338.5" stroke="#ebebeb" stroke-width="0.35" fill="none"/>
<rect x="141" y="201.1" width="7.1" height="10.93" fill="#ffffcc"/>
<rect x="141" y="212.03" width="7.1" height="51.97" fill="#a1dab4"/>
<rect x="141" y="264" width="7.1" height="18.59" fill="#41b6c4"/>
<rect x="141" y="282.59" width="7.1" height="26.21" fill="#2c7fb8"/>
<rect x="141" y="308.8" width="7.1" height="23.2" fill="#253494"/>
<text transform="translate(147.45 341.1) rotate(-90)" y="1.64" font-size="4.55" text-anchor="end" fill="#4d4d4d" stroke="#4d4d4d" stroke-width="0.05">[0,25)</text>
<rect x="148.88" y="201.1" width="7.1" height="10.93" fill="#ffffcc"/>
<rect x="148.88" y="212.03" width="7.1" height="43.68" fill="#a1dab4"/>
<rect x="148.88" y="255.71" width="7.1" height="21.06" fill="#41b6c4"/>
<rect x="148.88" y="276.77" width="7.1" height="27.78" fill="#2c7fb8"/>
<rect x="148.88" y="304.54" width="7.1" height="27.46" fill="#253494"/>
<text transform="translate(155.34 341.1) rotate(-90)" y="1.64" font-size="4.55" text-anchor="end" fill="#4d4d4d" stroke="#4d4d4d" stroke-width="0.05">[25,30)</text>
<rect x="156.77" y="201.1" width="7.1" height="10.25" fill="#ffffcc"/>
<rect x="156.77" y="211.35" width="7.1" height="43.91" fill="#a1dab4"/>
<rect x="156.77" y="255.26" width="7.1" height="20.83" fill="#41b6c4"/>
<rect x="156.77" y="276.09" width="7.1" height="28.9" fill="#2c7fb8"/>
<rect x="156.77" y="304.99" width="7.1" height="27.01" fill="#253494"/>
<text transform="translate(163.22 341.1) rotate(-90)" y="1.64" font-size="4.55" text-anchor="end" fill="#4d4d4d" stroke="#4d4d4d" stroke-width="0.05">[30,35)</text>
<rect x="164.66" y="201.1" width="7.1" height="12.49" fill="#ffffcc"/>
<rect x="164.66" y="213.59" width="7.1" height="44.13" fill="#a1dab4"/>
<rect x="164.66" y="257.72" width="7.1" height="19.27" fill="#41b6c4"/>
<rect x="164.66" y="276.99" width="7.1" height="30.91" fill="#2c7fb8"/>
<rect x="164.66" y="307.9" width="7.1" height="24.1" fill="#253494"/>
<text transform="translate(171.11 341.1) rotate(-90)" y="1.64" font-size="4.55" text-anchor="end" fill="#4d4d4d" stroke="#4d4d4d" stroke-width="0.05">[35,40)</text>
<rect x="172.54" y="201.1" width="7.1" height="11.6" fill="#ffffcc"/>
<rect x="172.54" y="212.7" width="7.1" height="44.13" fill="#a1dab4"/>
<rect x="172.54" y="256.83" width="7.1" height="19.94" fill="#41b6c4"/>
<rect x="172.54" y="276.77" width="7.1" height="28.23" fill="#2c7fb8"/>
<rect x="172.54" y="304.99" width="7.1" height="27.01" fill="#253494"/>
<text transform="translate(178.99 341.1) rotate(-90)" y="1.64" font-size="4.55" text-anchor="end" fill="#4d4d4d" stroke="#4d4d4d" stroke-width="0.05">[40,45)</text>
<rect x="180.43" y="201.1" width="7.1" height="10.7" fill="#ffffcc"/>
<rect x="180.43" y="211.8" width="7.1" height="42.11" fill="#a1dab4"/>
<rect x="180.43" y="253.92" width="7.1" height="22.85" fill="#41b6c4"/>
<rect x="180.43" y="276.77" width="7.1" height="29.12" fill="#2c7fb8"/>
<rect x="180.43" y="305.89" width="7.1" height="26.11" fill="#253494"/>
<text transform="translate(186.88 341.1) rotate(-90)" y="1.64" font-size="4.55" text-anchor="end" fill="#4d4d4d" stroke="#4d4d4d" stroke-width="0.05">[45,50)</text>
<rect x="188.31" y="201.1" width="7.1" height="11.37" fill="#ffffcc"/>
<rect x="188.31" y="212.47" width="7.1" height="42.34" fill="#a1dab4"/>
<rect x="188.31" y="254.81" width="7.1" height="20.83" fill="#41b6c4"/>
<rect x="188.31" y="275.65" width="7.1" height="30.24" fill="#2c7fb8"/>
<rect x="188.31" y="305.89" width="7.1" height="26.11" fill="#253494"/>
<text transform="translate(194.76 341.1) rotate(-90)" y="1.64" font-size="4.55" text-anchor="end" fill="#4d4d4d" stroke="#4d4d4d" stroke-width="0.05">[50,55)</text>
<rect x="196.19" y="201.1" width="7.1" height="10.7" fill="#ffffcc"/>
<rect x="196.19" y="211.8" width="7.1" height="43.01" fill="#a1dab4"/>
<rect x="196.19" y="254.81" width="7.1" height="19.94" fill="#41b6c4"/>
<rect x="196.19" y="274.75" width="7.1" height="30.02" fill="#2c7fb8"/>
<rect x="196.19" y="304.77" width="7.1" height="27.23" fill="#253494"/>
<text transform="translate(202.65 341.1) rotate(-90)" y="1.64" font-size="4.55" text-anchor="end" fill="#4d4d4d" stroke="#4d4d4d" stroke-width="0.05">[55,60)</text>
<rect x="204.08" y="201.1" width="7.1" height="11.6" fill="#ffffcc"/>
<rect x="204.08" y="212.7" width="7.1" height="42.11" fill="#a1dab4"/>
<rect x="204.08" y="254.81" width="7.1" height="20.16" fill="#41b6c4"/>
<rect x="204.08" y="274.97" width="7.1" height="30.02" fill="#2c7fb8"/>
<rect x="204.08" y="304.99" width="7.1" height="27.01" fill="#253494"/>
<text transform="translate(210.53 341.1) rotate(-90)" y="1.64" font-size="4.55" text-anchor="end" fill="#4d4d4d" stroke="#4d4d4d" stroke-width="0.05">[60,65)</text>
<rect x="211.97" y="201.1" width="7.1" height="10.03" fill="#ffffcc"/>
<rect x="211.97" y="211.13" width="7.1" height="43.23" fill="#a1dab4"/>
<rect x="211.97" y="254.36" width="7.1" height="19.94" fill="#41b6c4"/>
<rect x="211.97" y="274.3" width="7.1" height="30.69" fill="#2c7fb8"/>
<rect x="211.97" y="304.99" width="7.1" height="27.01" fill="#253494"/>
<text transform="translate(218.42 341.1) rotate(-90)" y="1.64" font-size="4.55" text-anchor="end" fill="#4d4d4d" stroke="#4d4d4d" stroke-width="0.05">[65,70)</text>
<rect x="219.85" y="201.1" width="7.1" height="11.37" fill="#ffffcc"/>
<rect x="219.85" y="212.47" width="7.1" height="42.34" fill="#a1dab4"/>
<rect x="219.85" y="254.81" width="7.1" height="21.06" fill="#41b6c4"/>
<rect x="219.85" y="275.87" width="7.1" height="29.57" fill="#2c7fb8"/>
<rect x="219.85" y="305.44" width="7.1" height="26.56" fill="#253494"/>
<text transform="translate(226.3 341.1) rotate(-90)" y="1.64" font-size="4.55" text-anchor="end" fill="#4d4d4d" stroke="#4d4d4d" stroke-width="0.05">[70,75)</text>
<rect x="227.74" y="201.1" width="7.1" height="11.15" fill="#ffffcc"/>
<rect x="227.74" y="212.25" width="7.1" height="43.46" fill="#a1dab4"/>
<rect x="227.74" y="255.71" width="7.1" height="19.71" fill="#41b6c4"/>
<rect x="227.74" y="275.42" width="7.1" height="29.35" fill="#2c7fb8"/>
<rect x="227.74" y="304.77" width="7.1" height="27.23" fill="#253494"/>
<text transform="translate(234.19 341.1) rotate(-90)" y="1.64" font-size="4.55" text-anchor="end" fill="#4d4d4d" stroke="#4d4d4d" stroke-width="0.05">[75,80)</text>
<rect x="235.62" y="201.1" width="7.1" height="10.7" fill="#ffffcc"/>
<rect x="235.62" y="211.8" width="7.1" height="45.25" fill="#a1dab4"/>
<rect x="235.62" y="257.05" width="7.1" height="20.83" fill="#41b6c4"/>
<rect x="235.62" y="277.89" width="7.1" height="28.23" fill="#2c7fb8"/>
<rect x="235.62" y="306.11" width="7.1" height="25.89" fill="#253494"/>
<text transform="translate(242.07 341.1) rotate(-90)" y="1.64" font-size="4.55" text-anchor="end" fill="#4d4d4d" stroke="#4d4d4d" stroke-width="0.05">[80,85)</text>
<rect x="243.5" y="201.1" width="7.1" height="9.81" fill="#ffffcc"/>
<rect x="243.5" y="210.91" width="7.1" height="48.61" fill="#a1dab4"/>
<rect x="243.5" y="259.52" width="7.1" height="24.19" fill="#41b6c4"/>
<rect x="243.5" y="283.71" width="7.1" height="26.43" fill="#2c7fb8"/>
<rect x="243.5" y="310.14" width="7.1" height="21.86" fill="#253494"/>
<text transform="translate(249.96 341.1) rotate(-90)" y="1.64" font-size="4.55" text-anchor="end" fill="#4d4d4d" stroke="#4d4d4d" stroke-width="0.05">[85,101)</text>
<text x="195.3" y="192.15" font-size="4.3" text-anchor="middle" fill="#1a1a1a" stroke="#1a1a1a" stroke-width="0.05">Female</text>
<text x="21.9" y="334.82" font-size="4.5" text-anchor="end" fill="#4d4d4d" stroke="#4d4d4d" stroke-width="0.05">0.00</text>
<text x="21.9" y="302.09" font-size="4.5" text-anchor="end" fill="#4d4d4d" stroke="#4d4d4d" stroke-width="0.05">0.25</text>
<text x="21.9" y="269.37" font-size="4.5" text-anchor="end" fill="#4d4d4d" stroke="#4d4d4d" stroke-width="0.05">0.50</text>
<text x="21.9" y="236.64" font-size="4.5" text-anchor="end" fill="#4d4d4d" stroke="#4d4d4d" stroke-width="0.05">0.75</text>
<text x="21.9" y="203.92" font-size="4.5" text-anchor="end" fill="#4d4d4d" stroke="#4d4d4d" stroke-width="0.05">1.00</text>
<text transform="translate(8.9 267) rotate(-90)" y="2" font-size="5.55" text-anchor="middle" fill="#000" stroke="#000" stroke-width="0.05">Proportion</text>
<text x="137.8" y="364.14" font-size="5.4" text-anchor="middle" fill="#000" stroke="#000" stroke-width="0.05">Age Group</text>
<text x="260" y="246.22" font-size="5.6" text-anchor="start" fill="#000" stroke="#000" stroke-width="0.05">BMI Class</text>
<rect x="260" y="249.5" width="8.4" height="8.2" fill="#ffffcc"/>
<text x="271.1" y="256.24" font-size="4.55" text-anchor="start" fill="#222" stroke="#222" stroke-width="0.05">Underweight</text>
<rect x="260" y="258.14" width="8.4" height="8.2" fill="#a1dab4"/>
<text x="271.1" y="264.88" font-size="4.55" text-anchor="start" fill="#222" stroke="#222" stroke-width="0.05">Normal weight</text>
<rect x="260" y="266.78" width="8.4" height="8.2" fill="#41b6c4"/>
<text x="271.1" y="273.52" font-size="4.55" text-anchor="start" fill="#222" stroke="#222" stroke-width="0.05">Overweight I</text>
<rect x="260" y="275.42" width="8.4" height="8.2" fill="#2c7fb8"/>
<text x="271.1" y="282.16" font-size="4.55" text-anchor="start" fill="#222" stroke="#222" stroke-width="0.05">Overweight II</text>
<rect x="260" y="284.06" width="8.4" height="8.2" fill="#253494"/>
<text x="271.1" y="290.8" font-size="4.55" text-anchor="start" fill="#222" stroke="#222" stroke-width="0.05">Obese</text>
</g>
<g id="panel-d" font-family='"Liberation Sans", Arial, sans-serif'>
<path d="M411.2 299.7L411.2 244.9A54.8 54.8 0 0 1 454.92 266.66Z" fill="#253494" stroke="#253494" stroke-width="0.3"/>
<path d="M411.2 299.7L454.92 266.66A54.8 54.8 0 0 1 463.37 316.47Z" fill="#2c7fb8" stroke="#2c7fb8" stroke-width="0.3"/>
<path d="M411.2 299.7L463.37 316.47A54.8 54.8 0 0 1 440.42 346.06Z" fill="#41b6c4" stroke="#41b6c4" stroke-width="0.3"/>
<path d="M411.2 299.7L440.42 346.06A54.8 54.8 0 0 1 410.34 354.49Z" fill="#7fcdbb" stroke="#7fcdbb" stroke-width="0.3"/>
<path d="M411.2 299.7L410.34 354.49A54.8 54.8 0 0 1 376.67 342.25Z" fill="#c7e9b4" stroke="#c7e9b4" stroke-width="0.3"/>
<path d="M411.2 299.7L376.67 342.25A54.8 54.8 0 0 1 411.2 244.9Z" fill="#ffffcc" stroke="#ffffcc" stroke-width="0.3"/>
<text x="423.7" y="277.27" font-size="4.35" text-anchor="middle" fill="#000" stroke="#000" stroke-width="0.05">14.5%</text>
<text x="438.4" y="296.77" font-size="4.35" text-anchor="middle" fill="#000" stroke="#000" stroke-width="0.05">15.4%</text>
<text x="433" y="318.57" font-size="4.35" text-anchor="middle" fill="#000" stroke="#000" stroke-width="0.05">11.2%</text>
<text x="419" y="328.17" font-size="4.35" text-anchor="middle" fill="#000" stroke="#000" stroke-width="0.05">9.3%</text>
<text x="402.4" y="327.17" font-size="4.35" text-anchor="middle" fill="#000" stroke="#000" stroke-width="0.05">10.8%</text>
<text x="385.2" y="292.87" font-size="4.35" text-anchor="middle" fill="#000" stroke="#000" stroke-width="0.05">39%</text>
<text x="482.1" y="280.48" font-size="4.4" text-anchor="start" fill="#000" stroke="#000" stroke-width="0.05">Region</text>
<rect x="482.1" y="283.3" width="6.4" height="6.4" fill="#ffffcc"/>
<text x="491.4" y="287.72" font-size="3.4" text-anchor="start" fill="#000" stroke="#000" stroke-width="0.05">0-1999</text>
<rect x="482.1" y="290.08" width="6.4" height="6.4" fill="#c7e9b4"/>
<text x="491.4" y="294.5" font-size="3.4" text-anchor="start" fill="#000" stroke="#000" stroke-width="0.05">2000-4999</text>
<rect x="482.1" y="296.86" width="6.4" height="6.4" fill="#7fcdbb"/>
<text x="491.4" y="301.28" font-size="3.4" text-anchor="start" fill="#000" stroke="#000" stroke-width="0.05">5000-9999</text>
<rect x="482.1" y="303.64" width="6.4" height="6.4" fill="#41b6c4"/>
<text x="491.4" y="308.06" font-size="3.4" text-anchor="start" fill="#000" stroke="#000" stroke-width="0.05">10000-19999</text>
<rect x="482.1" y="310.42" width="6.4" height="6.4" fill="#2c7fb8"/>
<text x="491.4" y="314.84" font-size="3.4" text-anchor="start" fill="#000" stroke="#000" stroke-width="0.05">20000-99999</text>
<rect x="482.1" y="317.2" width="6.4" height="6.4" fill="#253494"/>
<text x="491.4" y="321.62" font-size="3.4" text-anchor="start" fill="#000" stroke="#000" stroke-width="0.05">100000 or more</text>
</g>
<g id="panel-e" font-family='"Liberation Sans", Arial, sans-serif'>
<path d="M25.09 559.8H127.7" stroke="#ebebeb" stroke-width="0.35" fill="none"/>
<path d="M25.09 542.85H127.7" stroke="#ebebeb" stroke-width="0.175" fill="none"/>
<path d="M25.09 525.9H127.7" stroke="#ebebeb" stroke-width="0.35" fill="none"/>
<path d="M25.09 508.95H127.7" stroke="#ebebeb" stroke-width="0.175" fill="none"/>
<path d="M25.09 492H127.7" stroke="#ebebeb" stroke-width="0.35" fill="none"/>
<path d="M25.09 475.05H127.7" stroke="#ebebeb" stroke-width="0.175" fill="none"/>
<path d="M25.09 458.1H127.7" stroke="#ebebeb" stroke-width="0.35" fill="none"/>
<path d="M25.09 441.15H127.7" stroke="#ebebeb" stroke-width="0.175" fill="none"/>
<path d="M25.09 424.2H127.7" stroke="#ebebeb" stroke-width="0.35" fill="none"/>
<path d="M31.12 417.5V566.5" stroke="#ebebeb" stroke-width="0.35" fill="none"/>
<path d="M41.19 417.5V566.5" stroke="#ebebeb" stroke-width="0.35" fill="none"/>
<path d="M51.25 417.5V566.5" stroke="#ebebeb" stroke-width="0.35" fill="none"/>
<path d="M61.3 417.5V566.5" stroke="#ebebeb" stroke-width="0.35" fill="none"/>
<path d="M71.37 417.5V566.5" stroke="#ebebeb" stroke-width="0.35" fill="none"/>
<path d="M81.43 417.5V566.5" stroke="#ebebeb" stroke-width="0.35" fill="none"/>
<path d="M91.48 417.5V566.5" stroke="#ebebeb" stroke-width="0.35" fill="none"/>
<path d="M101.55 417.5V566.5" stroke="#ebebeb" stroke-width="0.35" fill="none"/>
<path d="M111.61 417.5V566.5" stroke="#ebebeb" stroke-width="0.35" fill="none"/>
<path d="M121.67 417.5V566.5" stroke="#ebebeb" stroke-width="0.35" fill="none"/>
<rect x="26.6" y="424.2" width="9.05" height="39.91" fill="#ffffcc"/>
<rect x="26.6" y="464.11" width="9.05" height="25.84" fill="#a1dab4"/>
<rect x="26.6" y="489.95" width="9.05" height="31.99" fill="#41b6c4"/>
<rect x="26.6" y="521.94" width="9.05" height="37.86" fill="#225ea8"/>
<text transform="translate(30.73 571) rotate(-45)" y="3.42" font-size="4.75" text-anchor="end" fill="#4d4d4d" stroke="#4d4d4d" stroke-width="0.05">[0,25)</text>
<rect x="36.66" y="424.2" width="9.05" height="40.68" fill="#ffffcc"/>
<rect x="36.66" y="464.88" width="9.05" height="25.08" fill="#a1dab4"/>
<rect x="36.66" y="489.95" width="9.05" height="31.22" fill="#41b6c4"/>
<rect x="36.66" y="521.17" width="9.05" height="38.63" fill="#225ea8"/>
<text transform="translate(40.79 571) rotate(-45)" y="3.42" font-size="4.75" text-anchor="end" fill="#4d4d4d" stroke="#4d4d4d" stroke-width="0.05">[25,30)</text>
<rect x="46.72" y="424.2" width="9.05" height="41.96" fill="#ffffcc"/>
<rect x="46.72" y="466.16" width="9.05" height="25.33" fill="#a1dab4"/>
<rect x="46.72" y="491.49" width="9.05" height="30.71" fill="#41b6c4"/>
<rect x="46.72" y="522.2" width="9.05" height="37.6" fill="#225ea8"/>
<text transform="translate(50.85 571) rotate(-45)" y="3.42" font-size="4.75" text-anchor="end" fill="#4d4d4d" stroke="#4d4d4d" stroke-width="0.05">[30,35)</text>
<rect x="56.78" y="424.2" width="9.05" height="41.44" fill="#ffffcc"/>
<rect x="56.78" y="465.64" width="9.05" height="25.84" fill="#a1dab4"/>
<rect x="56.78" y="491.49" width="9.05" height="33.27" fill="#41b6c4"/>
<rect x="56.78" y="524.75" width="9.05" height="35.05" fill="#225ea8"/>
<text transform="translate(60.91 571) rotate(-45)" y="3.42" font-size="4.75" text-anchor="end" fill="#4d4d4d" stroke="#4d4d4d" stroke-width="0.05">[35,40)</text>
<rect x="66.84" y="424.2" width="9.05" height="39.91" fill="#ffffcc"/>
<rect x="66.84" y="464.11" width="9.05" height="25.84" fill="#a1dab4"/>
<rect x="66.84" y="489.95" width="9.05" height="33.78" fill="#41b6c4"/>
<rect x="66.84" y="523.73" width="9.05" height="36.07" fill="#225ea8"/>
<text transform="translate(70.97 571) rotate(-45)" y="3.42" font-size="4.75" text-anchor="end" fill="#4d4d4d" stroke="#4d4d4d" stroke-width="0.05">[40,45)</text>
<rect x="76.9" y="424.2" width="9.05" height="39.4" fill="#ffffcc"/>
<rect x="76.9" y="463.6" width="9.05" height="26.1" fill="#a1dab4"/>
<rect x="76.9" y="489.7" width="9.05" height="33.27" fill="#41b6c4"/>
<rect x="76.9" y="522.96" width="9.05" height="36.84" fill="#225ea8"/>
<text transform="translate(81.03 571) rotate(-45)" y="3.42" font-size="4.75" text-anchor="end" fill="#4d4d4d" stroke="#4d4d4d" stroke-width="0.05">[45,50)</text>
<rect x="86.96" y="424.2" width="9.05" height="39.91" fill="#ffffcc"/>
<rect x="86.96" y="464.11" width="9.05" height="25.84" fill="#a1dab4"/>
<rect x="86.96" y="489.95" width="9.05" height="32.75" fill="#41b6c4"/>
<rect x="86.96" y="522.71" width="9.05" height="37.09" fill="#225ea8"/>
<text transform="translate(91.08 571) rotate(-45)" y="3.42" font-size="4.75" text-anchor="end" fill="#4d4d4d" stroke="#4d4d4d" stroke-width="0.05">[50,55)</text>
<rect x="97.02" y="424.2" width="9.05" height="38.63" fill="#ffffcc"/>
<rect x="97.02" y="462.83" width="9.05" height="26.36" fill="#a1dab4"/>
<rect x="97.02" y="489.19" width="9.05" height="34.54" fill="#41b6c4"/>
<rect x="97.02" y="523.73" width="9.05" height="36.07" fill="#225ea8"/>
<text transform="translate(101.14 571) rotate(-45)" y="3.42" font-size="4.75" text-anchor="end" fill="#4d4d4d" stroke="#4d4d4d" stroke-width="0.05">[55,60)</text>
<rect x="107.08" y="424.2" width="9.05" height="38.37" fill="#ffffcc"/>
<rect x="107.08" y="462.57" width="9.05" height="27.64" fill="#a1dab4"/>
<rect x="107.08" y="490.21" width="9.05" height="30.45" fill="#41b6c4"/>
<rect x="107.08" y="520.66" width="9.05" height="39.14" fill="#225ea8"/>
<text transform="translate(111.2 571) rotate(-45)" y="3.42" font-size="4.75" text-anchor="end" fill="#4d4d4d" stroke="#4d4d4d" stroke-width="0.05">[60,65)</text>
<rect x="117.14" y="424.2" width="9.05" height="61.92" fill="#ffffcc"/>
<rect x="117.14" y="486.12" width="9.05" height="20.73" fill="#a1dab4"/>
<rect x="117.14" y="506.84" width="9.05" height="26.61" fill="#41b6c4"/>
<rect x="117.14" y="533.45" width="9.05" height="26.35" fill="#225ea8"/>
<text transform="translate(121.27 571) rotate(-45)" y="3.42" font-size="4.75" text-anchor="end" fill="#4d4d4d" stroke="#4d4d4d" stroke-width="0.05">[65,101)</text>
<text x="76.4" y="414.83" font-size="4.8" text-anchor="middle" fill="#1a1a1a" stroke="#1a1a1a" stroke-width="0.05">Male</text>
<path d="M130.29 559.8H232.9" stroke="#ebebeb" stroke-width="0.35" fill="none"/>
<path d="M130.29 542.85H232.9" stroke="#ebebeb" stroke-width="0.175" fill="none"/>
<path d="M130.29 525.9H232.9" stroke="#ebebeb" stroke-width="0.35" fill="none"/>
<path d="M130.29 508.95H232.9" stroke="#ebebeb" stroke-width="0.175" fill="none"/>
<path d="M130.29 492H232.9" stroke="#ebebeb" stroke-width="0.35" fill="none"/>
<path d="M130.29 475.05H232.9" stroke="#ebebeb" stroke-width="0.175" fill="none"/>
<path d="M130.29 458.1H232.9" stroke="#ebebeb" stroke-width="0.35" fill="none"/>
<path d="M130.29 441.15H232.9" stroke="#ebebeb" stroke-width="0.175" fill="none"/>
<path d="M130.29 424.2H232.9" stroke="#ebebeb" stroke-width="0.35" fill="none"/>
<path d="M136.33 417.5V566.5" stroke="#ebebeb" stroke-width="0.35" fill="none"/>
<path d="M146.39 417.5V566.5" stroke="#ebebeb" stroke-width="0.35" fill="none"/>
<path d="M156.45 417.5V566.5" stroke="#ebebeb" stroke-width="0.35" fill="none"/>
<path d="M166.51 417.5V566.5" stroke="#ebebeb" stroke-width="0.35" fill="none"/>
<path d="M176.57 417.5V566.5" stroke="#ebebeb" stroke-width="0.35" fill="none"/>
<path d="M186.63 417.5V566.5" stroke="#ebebeb" stroke-width="0.35" fill="none"/>
<path d="M196.69 417.5V566.5" stroke="#ebebeb" stroke-width="0.35" fill="none"/>
<path d="M206.75 417.5V566.5" stroke="#ebebeb" stroke-width="0.35" fill="none"/>
<path d="M216.81 417.5V566.5" stroke="#ebebeb" stroke-width="0.35" fill="none"/>
<path d="M226.87 417.5V566.5" stroke="#ebebeb" stroke-width="0.35" fill="none"/>
<rect x="131.8" y="424.2" width="9.05" height="57.05" fill="#ffffcc"/>
<rect x="131.8" y="481.25" width="9.05" height="29.17" fill="#a1dab4"/>
<rect x="131.8" y="510.42" width="9.05" height="24.56" fill="#41b6c4"/>
<rect x="131.8" y="534.99" width="9.05" height="24.81" fill="#225ea8"/>
<text transform="translate(135.93 571) rotate(-45)" y="3.42" font-size="4.75" text-anchor="end" fill="#4d4d4d" stroke="#4d4d4d" stroke-width="0.05">[0,25)</text>
<rect x="141.86" y="424.2" width="9.05" height="62.17" fill="#ffffcc"/>
<rect x="141.86" y="486.37" width="9.05" height="29.17" fill="#a1dab4"/>
<rect x="141.86" y="515.54" width="9.05" height="21.49" fill="#41b6c4"/>
<rect x="141.86" y="537.04" width="9.05" height="22.76" fill="#225ea8"/>
<text transform="translate(145.99 571) rotate(-45)" y="3.42" font-size="4.75" text-anchor="end" fill="#4d4d4d" stroke="#4d4d4d" stroke-width="0.05">[25,30)</text>
<rect x="151.92" y="424.2" width="9.05" height="58.33" fill="#ffffcc"/>
<rect x="151.92" y="482.53" width="9.05" height="31.22" fill="#a1dab4"/>
<rect x="151.92" y="513.75" width="9.05" height="23.8" fill="#41b6c4"/>
<rect x="151.92" y="537.55" width="9.05" height="22.25" fill="#225ea8"/>
<text transform="translate(156.05 571) rotate(-45)" y="3.42" font-size="4.75" text-anchor="end" fill="#4d4d4d" stroke="#4d4d4d" stroke-width="0.05">[30,35)</text>
<rect x="161.98" y="424.2" width="9.05" height="60.89" fill="#ffffcc"/>
<rect x="161.98" y="485.09" width="9.05" height="28.15" fill="#a1dab4"/>
<rect x="161.98" y="513.24" width="9.05" height="22.77" fill="#41b6c4"/>
<rect x="161.98" y="536.01" width="9.05" height="23.79" fill="#225ea8"/>
<text transform="translate(166.11 571) rotate(-45)" y="3.42" font-size="4.75" text-anchor="end" fill="#4d4d4d" stroke="#4d4d4d" stroke-width="0.05">[35,40)</text>
<rect x="172.04" y="424.2" width="9.05" height="59.36" fill="#ffffcc"/>
<rect x="172.04" y="483.56" width="9.05" height="30.19" fill="#a1dab4"/>
<rect x="172.04" y="513.75" width="9.05" height="22.01" fill="#41b6c4"/>
<rect x="172.04" y="535.76" width="9.05" height="24.04" fill="#225ea8"/>
<text transform="translate(176.17 571) rotate(-45)" y="3.42" font-size="4.75" text-anchor="end" fill="#4d4d4d" stroke="#4d4d4d" stroke-width="0.05">[40,45)</text>
<rect x="182.1" y="424.2" width="9.05" height="59.1" fill="#ffffcc"/>
<rect x="182.1" y="483.3" width="9.05" height="28.92" fill="#a1dab4"/>
<rect x="182.1" y="512.22" width="9.05" height="22.77" fill="#41b6c4"/>
<rect x="182.1" y="534.99" width="9.05" height="24.81" fill="#225ea8"/>
<text transform="translate(186.23 571) rotate(-45)" y="3.42" font-size="4.75" text-anchor="end" fill="#4d4d4d" stroke="#4d4d4d" stroke-width="0.05">[45,50)</text>
<rect x="192.16" y="424.2" width="9.05" height="60.64" fill="#ffffcc"/>
<rect x="192.16" y="484.84" width="9.05" height="29.17" fill="#a1dab4"/>
<rect x="192.16" y="514.01" width="9.05" height="22.77" fill="#41b6c4"/>
<rect x="192.16" y="536.78" width="9.05" height="23.02" fill="#225ea8"/>
<text transform="translate(196.28 571) rotate(-45)" y="3.42" font-size="4.75" text-anchor="end" fill="#4d4d4d" stroke="#4d4d4d" stroke-width="0.05">[50,55)</text>
<rect x="202.22" y="424.2" width="9.05" height="59.36" fill="#ffffcc"/>
<rect x="202.22" y="483.56" width="9.05" height="30.19" fill="#a1dab4"/>
<rect x="202.22" y="513.75" width="9.05" height="22.52" fill="#41b6c4"/>
<rect x="202.22" y="536.27" width="9.05" height="23.53" fill="#225ea8"/>
<text transform="translate(206.34 571) rotate(-45)" y="3.42" font-size="4.75" text-anchor="end" fill="#4d4d4d" stroke="#4d4d4d" stroke-width="0.05">[55,60)</text>
<rect x="212.28" y="424.2" width="9.05" height="59.61" fill="#ffffcc"/>
<rect x="212.28" y="483.81" width="9.05" height="30.19" fill="#a1dab4"/>
<rect x="212.28" y="514.01" width="9.05" height="21.75" fill="#41b6c4"/>
<rect x="212.28" y="535.76" width="9.05" height="24.04" fill="#225ea8"/>
<text transform="translate(216.41 571) rotate(-45)" y="3.42" font-size="4.75" text-anchor="end" fill="#4d4d4d" stroke="#4d4d4d" stroke-width="0.05">[60,65)</text>
<rect x="222.34" y="424.2" width="9.05" height="63.71" fill="#ffffcc"/>
<rect x="222.34" y="487.91" width="9.05" height="34.03" fill="#a1dab4"/>
<rect x="222.34" y="521.94" width="9.05" height="18.94" fill="#41b6c4"/>
<rect x="222.34" y="540.88" width="9.05" height="18.92" fill="#225ea8"/>
<text transform="translate(226.47 571) rotate(-45)" y="3.42" font-size="4.75" text-anchor="end" fill="#4d4d4d" stroke="#4d4d4d" stroke-width="0.05">[65,101)</text>
<text x="181" y="414.83" font-size="4.8" text-anchor="middle" fill="#1a1a1a" stroke="#1a1a1a" stroke-width="0.05">Female</text>
<text x="22.8" y="562.61" font-size="4.75" text-anchor="end" fill="#4d4d4d" stroke="#4d4d4d" stroke-width="0.05">0.00</text>
<text x="22.8" y="528.71" font-size="4.75" text-anchor="end" fill="#4d4d4d" stroke="#4d4d4d" stroke-width="0.05">0.25</text>
<text x="22.8" y="494.81" font-size="4.75" text-anchor="end" fill="#4d4d4d" stroke="#4d4d4d" stroke-width="0.05">0.50</text>
<text x="22.8" y="460.91" font-size="4.75" text-anchor="end" fill="#4d4d4d" stroke="#4d4d4d" stroke-width="0.05">0.75</text>
<text x="22.8" y="427.01" font-size="4.75" text-anchor="end" fill="#4d4d4d" stroke="#4d4d4d" stroke-width="0.05">1.00</text>
<text transform="translate(8.3 492.4) rotate(-90)" y="2.16" font-size="6" text-anchor="middle" fill="#000" stroke="#000" stroke-width="0.05">Proportion</text>
<text x="128.8" y="593.4" font-size="6.1" text-anchor="middle" fill="#000" stroke="#000" stroke-width="0.05">Age Group</text>
<text x="241.4" y="474.44" font-size="5.95" text-anchor="start" fill="#000" stroke="#000" stroke-width="0.05">Exercise Habits</text>
<rect x="241.4" y="478.4" width="8.7" height="8.4" fill="#ffffcc"/>
<text x="254.1" y="484.87" font-size="4.65" text-anchor="start" fill="#222" stroke="#222" stroke-width="0.05">Less than 2 hours</text>
<rect x="241.4" y="487.85" width="8.7" height="8.4" fill="#a1dab4"/>
<text x="254.1" y="494.32" font-size="4.65" text-anchor="start" fill="#222" stroke="#222" stroke-width="0.05">2 to less than 3 hours</text>
<rect x="241.4" y="497.3" width="8.7" height="8.4" fill="#41b6c4"/>
<text x="254.1" y="503.77" font-size="4.65" text-anchor="start" fill="#222" stroke="#222" stroke-width="0.05">3 to less than 5 hours</text>
<rect x="241.4" y="506.75" width="8.7" height="8.4" fill="#225ea8"/>
<text x="254.1" y="513.22" font-size="4.65" text-anchor="start" fill="#222" stroke="#222" stroke-width="0.05">5 or more hours</text>
</g>
<g id="panel-f" font-family='"Liberation Sans", Arial, sans-serif'>
<path d="M328.5 560.8H404" stroke="#ebebeb" stroke-width="0.35" fill="none"/>
<path d="M328.5 545.07H404" stroke="#ebebeb" stroke-width="0.175" fill="none"/>
<path d="M328.5 529.35H404" stroke="#ebebeb" stroke-width="0.35" fill="none"/>
<path d="M328.5 513.62H404" stroke="#ebebeb" stroke-width="0.175" fill="none"/>
<path d="M328.5 497.9H404" stroke="#ebebeb" stroke-width="0.35" fill="none"/>
<path d="M328.5 482.17H404" stroke="#ebebeb" stroke-width="0.175" fill="none"/>
<path d="M328.5 466.45H404" stroke="#ebebeb" stroke-width="0.35" fill="none"/>
<path d="M328.5 450.73H404" stroke="#ebebeb" stroke-width="0.175" fill="none"/>
<path d="M328.5 435H404" stroke="#ebebeb" stroke-width="0.35" fill="none"/>
<path d="M348.35 428.7V567" stroke="#ebebeb" stroke-width="0.35" fill="none"/>
<path d="M383.9 428.7V567" stroke="#ebebeb" stroke-width="0.35" fill="none"/>
<rect x="332.8" y="435" width="31.1" height="99.2" fill="#c7e9b4"/>
<rect x="332.8" y="534.2" width="31.1" height="20.5" fill="#41b6c4"/>
<rect x="332.8" y="554.7" width="31.1" height="6.1" fill="#225ea8"/>
<text transform="translate(349.85 571.2) rotate(-45)" y="3.53" font-size="4.9" text-anchor="end" fill="#4d4d4d" stroke="#4d4d4d" stroke-width="0.05">[0,65)</text>
<rect x="368.2" y="435" width="31.4" height="60.1" fill="#c7e9b4"/>
<rect x="368.2" y="495.1" width="31.4" height="46.6" fill="#41b6c4"/>
<rect x="368.2" y="541.7" width="31.4" height="19.1" fill="#225ea8"/>
<text transform="translate(385.4 571.2) rotate(-45)" y="3.53" font-size="4.9" text-anchor="end" fill="#4d4d4d" stroke="#4d4d4d" stroke-width="0.05">[65,101)</text>
<text x="365.8" y="425.76" font-size="4.9" text-anchor="middle" fill="#1a1a1a" stroke="#1a1a1a" stroke-width="0.05">Male</text>
<path d="M408.7 560.8H484.2" stroke="#ebebeb" stroke-width="0.35" fill="none"/>
<path d="M408.7 545.07H484.2" stroke="#ebebeb" stroke-width="0.175" fill="none"/>
<path d="M408.7 529.35H484.2" stroke="#ebebeb" stroke-width="0.35" fill="none"/>
<path d="M408.7 513.62H484.2" stroke="#ebebeb" stroke-width="0.175" fill="none"/>
<path d="M408.7 497.9H484.2" stroke="#ebebeb" stroke-width="0.35" fill="none"/>
<path d="M408.7 482.17H484.2" stroke="#ebebeb" stroke-width="0.175" fill="none"/>
<path d="M408.7 466.45H484.2" stroke="#ebebeb" stroke-width="0.35" fill="none"/>
<path d="M408.7 450.73H484.2" stroke="#ebebeb" stroke-width="0.175" fill="none"/>
<path d="M408.7 435H484.2" stroke="#ebebeb" stroke-width="0.35" fill="none"/>
<path d="M428.6 428.7V567" stroke="#ebebeb" stroke-width="0.35" fill="none"/>
<path d="M464.1 428.7V567" stroke="#ebebeb" stroke-width="0.35" fill="none"/>
<rect x="413" y="435" width="31.2" height="93" fill="#c7e9b4"/>
<rect x="413" y="528" width="31.2" height="27.9" fill="#41b6c4"/>
<rect x="413" y="555.9" width="31.2" height="4.9" fill="#225ea8"/>
<text transform="translate(430.1 571.2) rotate(-45)" y="3.53" font-size="4.9" text-anchor="end" fill="#4d4d4d" stroke="#4d4d4d" stroke-width="0.05">[0,65)</text>
<rect x="448.4" y="435" width="31.4" height="43.2" fill="#c7e9b4"/>
<rect x="448.4" y="478.2" width="31.4" height="59.6" fill="#41b6c4"/>
<rect x="448.4" y="537.8" width="31.4" height="23" fill="#225ea8"/>
<text transform="translate(465.6 571.2) rotate(-45)" y="3.53" font-size="4.9" text-anchor="end" fill="#4d4d4d" stroke="#4d4d4d" stroke-width="0.05">[65,101)</text>
<text x="446.2" y="425.76" font-size="4.9" text-anchor="middle" fill="#1a1a1a" stroke="#1a1a1a" stroke-width="0.05">Female</text>
<text x="324.7" y="563.16" font-size="4.9" text-anchor="end" fill="#4d4d4d" stroke="#4d4d4d" stroke-width="0.05">0.00</text>
<text x="324.7" y="531.71" font-size="4.9" text-anchor="end" fill="#4d4d4d" stroke="#4d4d4d" stroke-width="0.05">0.25</text>
<text x="324.7" y="500.26" font-size="4.9" text-anchor="end" fill="#4d4d4d" stroke="#4d4d4d" stroke-width="0.05">0.50</text>
<text x="324.7" y="468.81" font-size="4.9" text-anchor="end" fill="#4d4d4d" stroke="#4d4d4d" stroke-width="0.05">0.75</text>
<text x="324.7" y="437.36" font-size="4.9" text-anchor="end" fill="#4d4d4d" stroke="#4d4d4d" stroke-width="0.05">1.00</text>
<text transform="translate(310.7 498.6) rotate(-90)" y="2.14" font-size="5.95" text-anchor="middle" fill="#000" stroke="#000" stroke-width="0.05">Proportion</text>
<text x="406.1" y="592.86" font-size="6" text-anchor="middle" fill="#000" stroke="#000" stroke-width="0.05">Age Group</text>
<text x="494.4" y="485" font-size="6.1" text-anchor="start" fill="#000" stroke="#000" stroke-width="0.05">Initial State</text>
<rect x="494.4" y="488.2" width="9.3" height="9" fill="#c7e9b4"/>
<text x="507.1" y="494.56" font-size="4.9" text-anchor="start" fill="#000" stroke="#000" stroke-width="0.1">Autonomous</text>
<rect x="494.4" y="497.7" width="9.3" height="9" fill="#41b6c4"/>
<text x="507.1" y="504.06" font-size="4.9" text-anchor="start" fill="#000" stroke="#000" stroke-width="0.1">Mildly Disabled</text>
<rect x="494.4" y="507.2" width="9.3" height="9" fill="#225ea8"/>
<text x="507.1" y="513.56" font-size="4.9" text-anchor="start" fill="#000" stroke="#000" stroke-width="0.1">Severely Disabled</text>
</g>
<g id="captions" font-family='"Liberation Serif", "Times New Roman", serif' font-size="12.1" fill="#111" stroke="#111" stroke-width="0.15">
<text x="2.4" y="167.6" textLength="88" lengthAdjust="spacingAndGlyphs">(<tspan font-weight="bold">a</tspan>) Age and sex.</text>
<text x="278.3" y="167.7" textLength="106.8" lengthAdjust="spacingAndGlyphs">(<tspan font-weight="bold">b</tspan>) Smoking habits.</text>
<text x="3.2" y="389.2" textLength="43.2" lengthAdjust="spacingAndGlyphs">(<tspan font-weight="bold">c</tspan>) BMI.</text>
<text x="309.6" y="389.4" textLength="60.4" lengthAdjust="spacingAndGlyphs">(<tspan font-weight="bold">d</tspan>) Region.</text>
<text x="2.4" y="617.6" textLength="101.8" lengthAdjust="spacingAndGlyphs">(<tspan font-weight="bold">e</tspan>) Exercise habits.</text>
<text x="305" y="617.4" textLength="79" lengthAdjust="spacingAndGlyphs">(<tspan font-weight="bold">f</tspan>) Initial state.</text>
</g>
</svg>
</body></html>
